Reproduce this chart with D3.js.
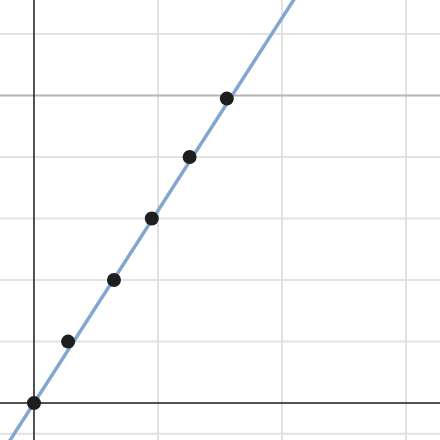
<!DOCTYPE html>
<html><head><meta charset="utf-8">
<script src="https://cdn.jsdelivr.net/npm/d3@7"></script>
<style>body{margin:0;background:#fff}</style></head>
<body><svg id="c" width="440" height="440"></svg>
<script>
const xPts = [0, 0.275, 0.645, 0.95, 1.255, 1.555];
const yPts = [0, 1, 2, 3, 4, 4.95];
const slope = 3.13;
const xGrid = [0, 1, 2, 3];
const yGrid = [-0.5, 0, 1, 2, 3, 4, 5, 6];
const yMajor = [5];

const W = 440, H = 440;
const x = d3.scaleLinear().domain([-0.274, 3.274]).range([0, W]);
const y = d3.scaleLinear().domain([-0.6, 6.553]).range([H, 0]);
const svg = d3.select("#c");

svg.selectAll(".gx").data(xGrid).enter().append("line")
  .attr("x1", d => x(d)).attr("x2", d => x(d)).attr("y1", 0).attr("y2", H)
  .attr("stroke", "#e2e2e2").attr("stroke-width", 2);
svg.selectAll(".gy").data(yGrid).enter().append("line")
  .attr("y1", d => y(d)).attr("y2", d => y(d)).attr("x1", 0).attr("x2", W)
  .attr("stroke", d => yMajor.includes(d) ? "#b4b4b4" : "#e2e2e2").attr("stroke-width", 2);

svg.append("line").attr("x1", x(0)).attr("x2", x(0)).attr("y1", 0).attr("y2", H)
  .attr("stroke", "#222").attr("stroke-width", 1.5);
svg.append("line").attr("y1", y(0)).attr("y2", y(0)).attr("x1", 0).attr("x2", W)
  .attr("stroke", "#222").attr("stroke-width", 1.5);

const xs = [-0.274, 3.274];
svg.append("path")
  .attr("d", d3.line().x(d => x(d)).y(d => y(slope * d))(xs))
  .attr("stroke", "#82a6d0").attr("stroke-width", 3.5).attr("fill", "none");

svg.selectAll(".pt").data(xPts).enter().append("circle")
  .attr("cx", d => x(d)).attr("cy", (d, i) => y(yPts[i])).attr("r", 7)
  .attr("fill", "#1e1e1e");
</script></body></html>
